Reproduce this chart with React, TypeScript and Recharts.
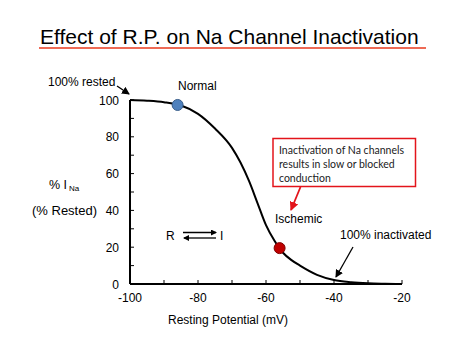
import React from 'react';
import { ComposedChart, Line, XAxis, YAxis, ReferenceDot } from 'recharts';

// resting potential (mV) vs available Na current (% of rested)
const potentialMv = [-100, -95, -90, -85, -80, -75, -70, -67.5, -65, -62.5, -60, -57.5, -55, -52.5, -50, -45, -40, -35, -30, -25, -20];
const currentPct = [100, 99.6, 98.8, 97, 92.5, 84.5, 74, 66, 56, 44, 32, 23.5, 17, 13, 10, 5, 2.2, 1, 0.4, 0.15, 0];

const xTicks = [-100, -90, -80, -70, -60, -50, -40, -30, -20];
const yTicks = [0, 10, 20, 30, 40, 50, 60, 70, 80, 90, 100];

const normalPoint = { v: -86, pct: 97.3 };
const ischemicPoint = { v: -56, pct: 19.5 };

const data = potentialMv.map((v, i) => ({ v, pct: currentPct[i] }));

const FONT = '"Liberation Sans", Arial, sans-serif';

const XTick = ({ x, y, payload }: any) => (
  <g>
    <line x1={x} x2={x} y1={y} y2={y - 4} stroke="#000" strokeWidth={1} />
    {payload.value % 20 === 0 && (
      <text x={x} y={y + 18} textAnchor="middle" fontSize={12} fontFamily={FONT} fill="#000">
        {payload.value}
      </text>
    )}
  </g>
);

const YTick = ({ x, y, payload }: any) => (
  <g>
    <line x1={x} x2={x + 4} y1={y} y2={y} stroke="#000" strokeWidth={1} />
    {payload.value % 20 === 0 && (
      <text x={x - 11} y={y + 4.5} textAnchor="end" fontSize={12} fontFamily={FONT} fill="#000">
        {payload.value}
      </text>
    )}
  </g>
);

const Overlay = () => (
  <svg width={474} height={355} style={{ position: 'absolute', left: 0, top: 0, pointerEvents: 'none' }}>
    <defs>
      <marker id="blackHead" markerWidth="8" markerHeight="8" refX="7" refY="4" orient="auto" markerUnits="userSpaceOnUse">
        <path d="M0,0 L8,4 L0,8 Z" fill="#000" />
      </marker>
      <marker id="smallHead" markerWidth="6" markerHeight="6" refX="5" refY="3" orient="auto" markerUnits="userSpaceOnUse">
        <path d="M0,0 L6,3 L0,6 Z" fill="#000" />
      </marker>
      <marker id="redHead" markerWidth="9" markerHeight="9" refX="8" refY="4.5" orient="auto" markerUnits="userSpaceOnUse">
        <path d="M0,0 L9,4.5 L0,9 Z" fill="#e3141b" />
      </marker>
    </defs>
    <text x={40} y={44} fontSize={21} fontFamily={FONT} fill="#000">
      Effect of R.P. on Na Channel Inactivation
    </text>
    <line x1={39} x2={426} y1={48} y2={48} stroke="#e8391d" strokeWidth={1.5} />

    <text x={48} y={86} fontSize={12} fontFamily={FONT}>100% rested</text>
    <line x1={117} y1={86} x2={129} y2={94} stroke="#000" strokeWidth={1.3} markerEnd="url(#blackHead)" />
    <text x={178} y={90} fontSize={12} fontFamily={FONT}>Normal</text>

    <text x={49} y={189} fontSize={12.5} fontFamily={FONT}>
      % I<tspan fontSize={8} dx={2} dy={2}>Na</tspan>
    </text>
    <text x={32} y={215} fontSize={13} fontFamily={FONT}>(% Rested)</text>

    <text x={166} y={240} fontSize={12} fontFamily={FONT}>R</text>
    <line x1={183} x2={216} y1={232.5} y2={232.5} stroke="#000" strokeWidth={1.3} markerEnd="url(#smallHead)" />
    <line x1={216} x2={184} y1={238} y2={238} stroke="#000" strokeWidth={1.3} markerEnd="url(#smallHead)" />
    <text x={220} y={240} fontSize={12} fontFamily={FONT}>I</text>

    <rect x={273} y={138.5} width={142.5} height={48} fill="#fff" stroke="#e3141b" strokeWidth={1.5} />
    <text fontSize={10.5} fontFamily="Lato, sans-serif" fill="#222">
      <tspan x={279} y={154}>Inactivation of Na channels</tspan>
      <tspan x={279} y={167.5}>results in slow or blocked</tspan>
      <tspan x={279} y={181.5}>conduction</tspan>
    </text>
    <line x1={300.5} y1={187} x2={291} y2={210} stroke="#e3141b" strokeWidth={1.8} markerEnd="url(#redHead)" />
    <text x={275} y={223} fontSize={12} fontFamily={FONT}>Ischemic</text>

    <text x={340} y={239} fontSize={12} fontFamily={FONT}>100% inactivated</text>
    <line x1={353} y1={247} x2={336} y2={277} stroke="#000" strokeWidth={1.3} markerEnd="url(#blackHead)" />

    <text x={228} y={324} textAnchor="middle" fontSize={12} fontFamily={FONT}>Resting Potential (mV)</text>
  </svg>
);

const App: React.FC = () => {
  return (
    <div style={{ position: 'absolute', left: 0, top: 0, width: 474, height: 355, background: '#fff' }}>
      <ComposedChart width={474} height={355} data={data} margin={{ top: 100, right: 72, left: 70, bottom: 41 }}>
        <XAxis
          dataKey="v"
          type="number"
          domain={[-100, -20]}
          ticks={xTicks}
          interval={0}
          tickSize={0}
          tickMargin={0}
          tick={<XTick />}
          height={30}
          axisLine={{ stroke: '#000', strokeWidth: 2 }}
        />
        <YAxis
          type="number"
          domain={[0, 100]}
          ticks={yTicks}
          interval={0}
          tickSize={0}
          tickMargin={0}
          tick={<YTick />}
          width={60}
          axisLine={{ stroke: '#000', strokeWidth: 2 }}
        />
        <Line
          dataKey="pct"
          type="monotone"
          stroke="#000"
          strokeWidth={2}
          dot={false}
          activeDot={false}
          isAnimationActive={false}
        />
        <ReferenceDot x={normalPoint.v} y={normalPoint.pct} r={5.5} fill="#4f81bd" stroke="#385d8a" strokeWidth={1} />
        <ReferenceDot x={ischemicPoint.v} y={ischemicPoint.pct} r={5.5} fill="#c00000" stroke="#7f0000" strokeWidth={1} />
      </ComposedChart>
      <Overlay />
    </div>
  );
};

export default App;
